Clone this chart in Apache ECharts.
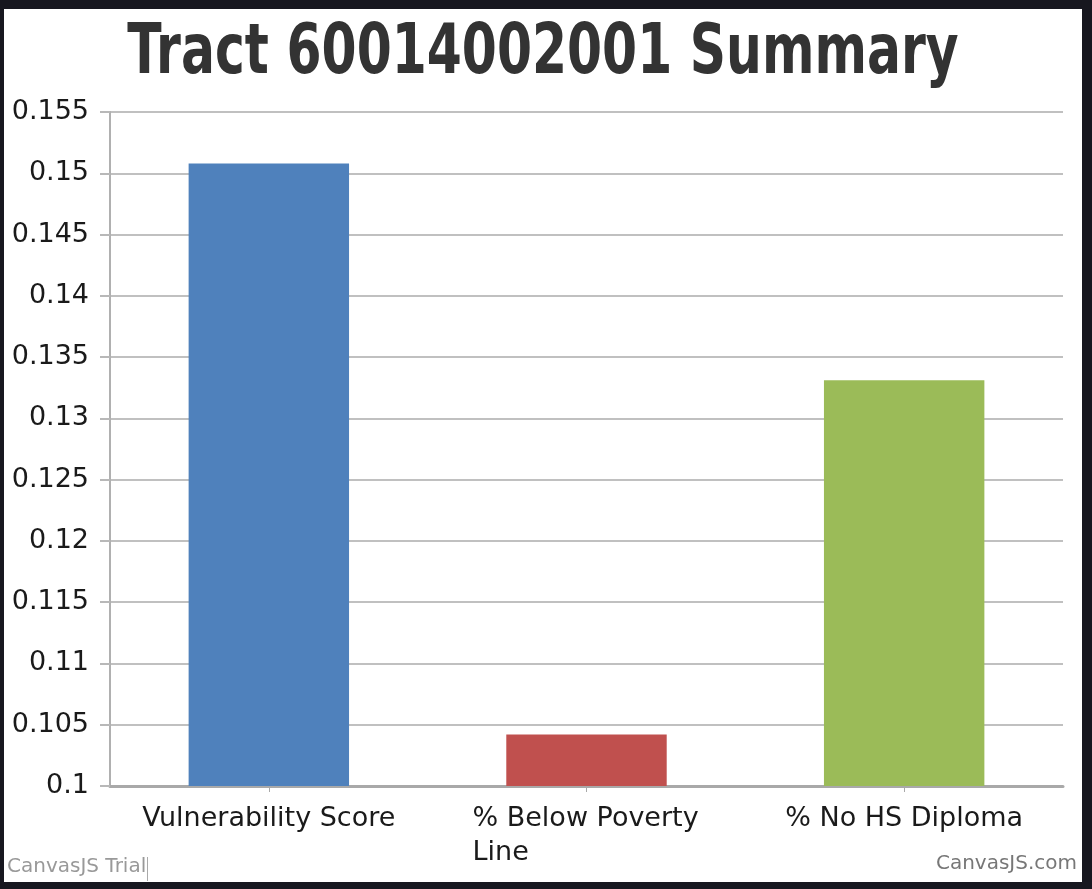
<!DOCTYPE html>
<html>
<head>
<meta charset="utf-8">
<script src="https://cdn.jsdelivr.net/npm/echarts@6/dist/echarts.min.js"></script>
<style>
  html, body { margin: 0; padding: 0; background: #17171f; width: 1092px; height: 889px; overflow: hidden; }
  #chart { position: absolute; left: 4px; top: 9px; width: 1078px; height: 873px; background: #ffffff; }
</style>
</head>
<body>
<div id="chart"></div>
<script>
const titleText = 'Tract 60014002001 Summary';
const categories = ['Vulnerability Score', '% Below Poverty Line', '% No HS Diploma'];
const values = [0.1508, 0.1042, 0.1331];
const barColors = ['#4f81bc', '#c0504e', '#9bbb58'];
const yMin = 0.1, yMax = 0.155, yStep = 0.005;

const chart = echarts.init(document.getElementById('chart'), null, { renderer: 'canvas' });
const labelFont = 'DejaVu Sans';

chart.setOption({
  animation: false,
  backgroundColor: '#ffffff',
  grid: { left: 106, right: 19, top: 103, bottom: 96, containLabel: false },
  xAxis: {
    type: 'category',
    data: categories,
    axisLine: { lineStyle: { color: '#a9a9a9', width: 3 } },
    axisTick: { show: true, alignWithLabel: true, length: 6, lineStyle: { color: '#a9a9a9', width: 1 } },
    axisLabel: {
      interval: 0,
      margin: 16,
      color: '#1a1a1a',
      fontFamily: labelFont,
      fontSize: 27,
      lineHeight: 34,
      formatter: function (v) {
        if (v === '% Below Poverty Line') {
          return '{l|% Below Poverty}\n{l|Line}';
        }
        return v;
      },
      rich: {
        l: { width: 228, align: 'left', fontFamily: labelFont, fontSize: 27, lineHeight: 34, color: '#1a1a1a' }
      }
    },
    splitLine: { show: false }
  },
  yAxis: {
    type: 'value',
    min: yMin,
    max: yMax,
    interval: yStep,
    axisLine: { show: true, lineStyle: { color: '#b0b0b0', width: 2 } },
    axisTick: { show: true, length: 10, lineStyle: { color: '#b8b8b8', width: 2 } },
    axisLabel: {
      margin: 21,
      color: '#1a1a1a',
      fontFamily: labelFont,
      fontSize: 27,
      formatter: function (v) { return String(+v.toFixed(3)); }
    },
    splitLine: { show: true, lineStyle: { color: '#c0c0c0', width: 2 } }
  },
  series: [{
    type: 'bar',
    data: values.map((v, i) => ({ value: v, itemStyle: { color: barColors[i] } })),
    barWidth: '50.5%'
  }],
  graphic: [
    {
      type: 'text', x: 539, y: 11, scaleX: 0.72, z: 100,
      style: {
        text: titleText, x: 0, y: 0, textAlign: 'center', textVerticalAlign: 'top',
        fill: '#333333', fontFamily: '"DejaVu Sans", sans-serif', fontWeight: 'bold', fontSize: 70
      }
    },
    {
      type: 'text', left: 3, top: 848, z: 100,
      style: { text: 'CanvasJS Trial', fill: '#999999', fontFamily: 'DejaVu Sans, sans-serif', fontSize: 20 }
    },
    {
      type: 'line', z: 100,
      shape: { x1: 143.5, y1: 848, x2: 143.5, y2: 872 },
      style: { stroke: '#aaaaaa', lineWidth: 1 }
    },
    {
      type: 'text', right: 5, top: 845, z: 100,
      style: { text: 'CanvasJS.com', fill: '#777777', fontFamily: 'DejaVu Sans, sans-serif', fontSize: 20 }
    }
  ]
});
</script>
</body>
</html>
